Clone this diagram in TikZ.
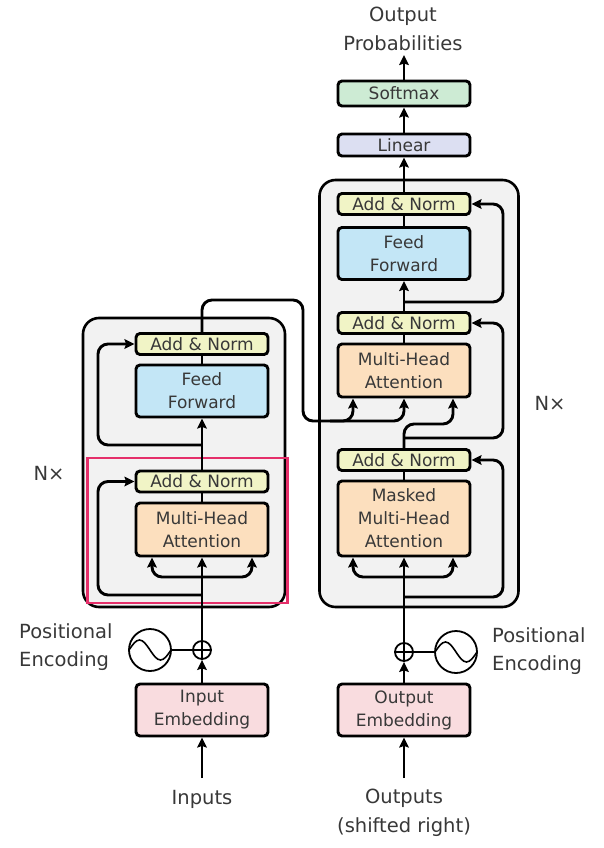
\documentclass[tikz,border=0pt]{standalone}
\usepackage{fontspec}
\setmainfont{DejaVu Sans}
\usetikzlibrary{arrows.meta}
\definecolor{anC}{HTML}{F1F4C6}
\definecolor{ffC}{HTML}{C3E6F6}
\definecolor{mhaC}{HTML}{FCDFBE}
\definecolor{embC}{HTML}{F9DCDF}
\definecolor{linC}{HTML}{DCDFF2}
\definecolor{smC}{HTML}{CDEBD4}
\definecolor{blockC}{HTML}{F2F2F2}
\definecolor{txtC}{HTML}{383838}
\definecolor{redC}{HTML}{E52F6A}
\begin{document}
\begin{tikzpicture}[x=1pt,y=-1pt,
  box/.style={draw=black, line width=2.9pt, rounded corners=4pt, minimum width=132pt,
    align=center, text=txtC, font=\fontsize{17}{23}\selectfont, inner sep=0pt},
  an/.style={box, fill=anC, minimum height=21pt},
  ff/.style={box, fill=ffC, minimum height=52pt},
  mha/.style={box, fill=mhaC, minimum height=53pt},
  emb/.style={box, fill=embC, minimum height=52pt},
  lbl/.style={text=txtC, font=\fontsize{19.5}{28.5}\selectfont, align=center, inner sep=0pt},
  conn/.style={line width=2.9pt, rounded corners=10pt},
  arr/.style={conn, -{Stealth[length=10pt,width=9.5pt,inset=1.5pt]}},
  block/.style={draw=black, fill=blockC, line width=2.6pt, rounded corners=16pt, inner sep=0pt},
  plus/.style={circle, draw=black, line width=1.8pt, minimum size=18pt, inner sep=0pt, fill=white,
    path picture={\draw[line width=1.5pt] (path picture bounding box.north) -- (path picture bounding box.south)
      (path picture bounding box.west) -- (path picture bounding box.east);}},
  pe/.style={circle, draw=black, line width=1.8pt, minimum size=42pt, inner sep=0pt, fill=white,
    path picture={\draw[line width=1.6pt] ([xshift=-21pt]path picture bounding box.center)
      sin ++(10.5pt,10pt) cos ++(10.5pt,-10pt) sin ++(10.5pt,-10pt) cos ++(10.5pt,10pt);}}
]
\useasboundingbox (0,0) rectangle (604,848);

% blocks
\node[block, minimum width=202pt, minimum height=289pt] (encBlock) at (184,462.5) {};
\node[block, minimum width=199pt, minimum height=427pt] (decBlock) at (419,393.5) {};

% encoder nodes
\node[an] (encAN2) at (202,344) {Add \& Norm};
\node[ff] (encFF) at (202,391) {Feed\\Forward};
\node[an] (encAN1) at (202,481.5) {Add \& Norm};
\node[mha] (encMHA) at (202,529.5) {Multi-Head\\Attention};
\node[emb] (inEmb) at (202,710) {Input\\Embedding};
\node[plus] (encPlus) at (202,650) {};
\node[pe] (encPE) at (150,650) {};

% decoder nodes
\node[an] (decAN3) at (404,204) {Add \& Norm};
\node[ff] (decFF) at (404,253.5) {Feed\\Forward};
\node[an] (decAN2) at (404,323) {Add \& Norm};
\node[mha] (decMHA) at (404,370.5) {Multi-Head\\Attention};
\node[an] (decAN1) at (404,460) {Add \& Norm};
\node[mha, minimum height=75pt] (decMMHA) at (404,518.5) {Masked\\Multi-Head\\Attention};
\node[emb] (outEmb) at (404,710) {Output\\Embedding};
\node[plus] (decPlus) at (404,652) {};
\node[pe] (decPE) at (456,652) {};
\node[box, fill=linC, minimum height=22pt] (linear) at (404,145) {Linear};
\node[box, fill=smC, minimum height=25pt] (softmax) at (404,93.5) {Softmax};

% highlight
\node[draw=redC, line width=2.6pt, minimum width=200pt, minimum height=145pt, inner sep=0pt] (hl) at (187.5,530.5) {};

% labels
\node[lbl] (outProb) at (403,29) {Output\\Probabilities};
\node[lbl] (inputs) at (202,799) {Inputs};
\node[lbl] (outputs) at (404,813) {Outputs\\(shifted right)};
\node[lbl, anchor=west, align=left] (encPEl) at (19,647) {Positional\\Encoding};
\node[lbl, anchor=west, align=left] (decPEl) at (492,651) {Positional\\Encoding};
\node[lbl] (encN) at (49,473) {N×};
\node[lbl] (decN) at (550,403) {N×};

% coordinates
\coordinate (inSrc) at (202,778);
\coordinate (outSrc) at (404,778);
\coordinate (outTop) at (404,55);
\coordinate (eIn) at (202,577);
\coordinate (eRes1) at (202,595);
\coordinate (eRes1c) at (98,481.5);
\coordinate (eRes2) at (202,445);
\coordinate (eRes2c) at (98,344);
\coordinate (eUp) at (202,300);
\coordinate (eR) at (303,300);
\coordinate (eD) at (303,421);
\coordinate (eE) at (404,421);
\coordinate (eMid) at (330,421);
\coordinate (dIn) at (404,577);
\coordinate (dRes1) at (404,597);
\coordinate (dRes1c) at (503,460);
\coordinate (dQ) at (404,424);
\coordinate (dQr) at (453,424);
\coordinate (dRes2) at (404,438);
\coordinate (dRes2c) at (503,323);
\coordinate (dRes3) at (404,302);
\coordinate (dRes3c) at (503,204);

% encoder connectors
\draw[arr] (inSrc) -- (inEmb.south);
\draw[arr] (inEmb.north) -- (encPlus.south);
\draw[conn] (encPE.east) -- (encPlus.west);
\draw[arr] (encPlus.north) -- (encMHA.south);
\draw[arr] (eIn) -| ([xshift=-50pt]encMHA.south);
\draw[arr] (eIn) -| ([xshift=50pt]encMHA.south);
\draw[arr] (eRes1) -| (eRes1c) -- (encAN1.west);
\draw[conn] (encMHA.north) -- (encAN1.south);
\draw[arr] (encAN1.north) -- (encFF.south);
\draw[arr] (eRes2) -| (eRes2c) -- (encAN2.west);
\draw[conn] (encFF.north) -- (encAN2.south);
\draw[arr] (encAN2.north) -- (eUp) -- (eR) -- (eD) -- (eE) -- (decMHA.south);
\draw[arr] (eMid) -| ([xshift=-51pt]decMHA.south);

% decoder connectors
\draw[arr] (outSrc) -- (outEmb.south);
\draw[arr] (outEmb.north) -- (decPlus.south);
\draw[conn] (decPE.west) -- (decPlus.east);
\draw[arr] (decPlus.north) -- (decMMHA.south);
\draw[arr] (dIn) -| ([xshift=-51pt]decMMHA.south);
\draw[arr] (dIn) -| ([xshift=49pt]decMMHA.south);
\draw[arr] (dRes1) -| (dRes1c) -- (decAN1.east);
\draw[conn] (decMMHA.north) -- (decAN1.south);
\draw[arr] (decAN1.north) -- (dQ) -- (dQr) -- ([xshift=49pt]decMHA.south);
\draw[arr] (dRes2) -| (dRes2c) -- (decAN2.east);
\draw[conn] (decMHA.north) -- (decAN2.south);
\draw[arr] (decAN2.north) -- (decFF.south);
\draw[arr] (dRes3) -| (dRes3c) -- (decAN3.east);
\draw[conn] (decFF.north) -- (decAN3.south);
\draw[arr] (decAN3.north) -- (linear.south);
\draw[arr] (linear.north) -- (softmax.south);
\draw[arr] (softmax.north) -- (outTop);
\end{tikzpicture}
\end{document}
